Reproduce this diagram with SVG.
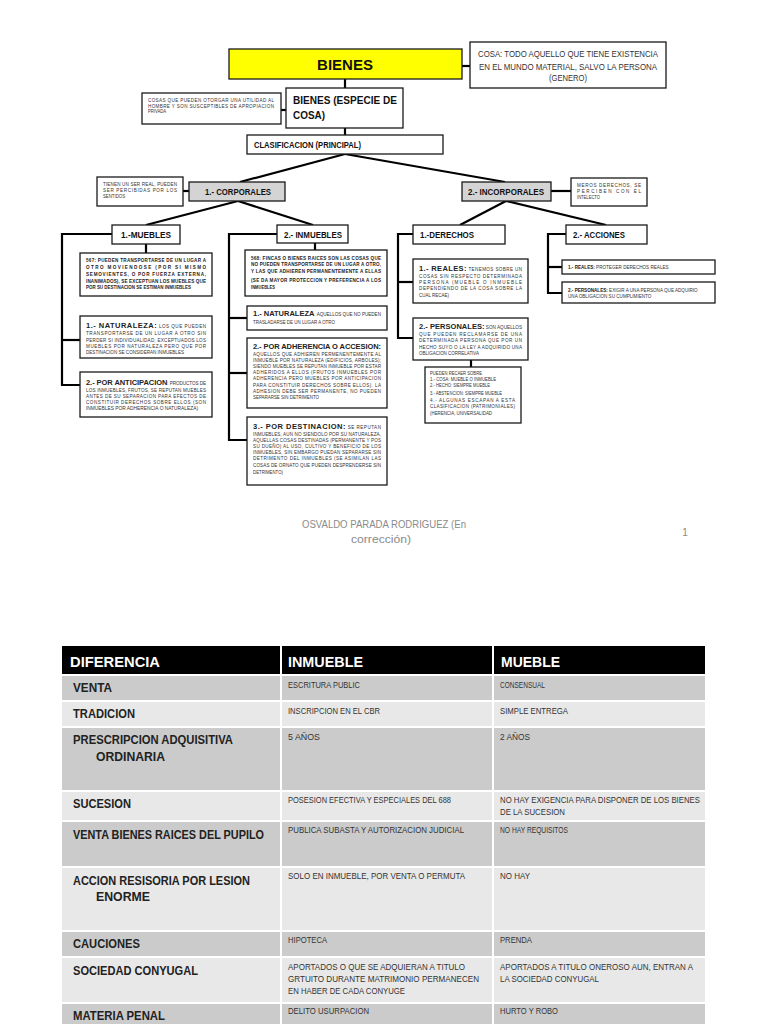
<svg xmlns="http://www.w3.org/2000/svg" width="768" height="1024" viewBox="0 0 768 1024">
<style>
.bx{fill:#fff;stroke:#1a1a1a;stroke-width:1.3}
.gr{fill:#d4d4d4;stroke:#1a1a1a;stroke-width:1.3}
.yl{fill:#ffff00;stroke:#1a1a1a;stroke-width:1.3}
.ln{stroke:#000;stroke-width:2.2;fill:none}
text{font-family:"Liberation Sans",Arial,sans-serif;fill:#333}
.s{font-size:4.6px}
.sb{font-size:4.6px;font-weight:bold;fill:#222}
.lb{font-size:7.5px;font-weight:bold;fill:#222}
.h{font-weight:bold;fill:#111}
.hd{font-size:15.5px;font-weight:bold;fill:#fff}
.c1{font-size:12px;font-weight:bold;fill:#222}
.c2{font-size:8.5px;fill:#333}
.dk{fill:#cbcbcb}
.lt{fill:#e8e8e8}
.ft{font-size:10px;fill:#8a8a8a}
</style>
<defs></defs>
<g id="connectors">
<line class="ln" x1="345" y1="79" x2="345" y2="88"/>
<line class="ln" x1="462" y1="66" x2="470" y2="66"/>
<line class="ln" x1="281" y1="110" x2="286" y2="110"/>
<line class="ln" x1="345" y1="128" x2="345" y2="135"/>
<line class="ln" x1="345" y1="154" x2="240" y2="182"/>
<line class="ln" x1="345" y1="154" x2="505" y2="182"/>
<line class="ln" x1="183" y1="191" x2="189" y2="191"/>
<line class="ln" x1="551" y1="191" x2="571" y2="191"/>
<line class="ln" x1="238" y1="201" x2="146" y2="225"/>
<line class="ln" x1="238" y1="201" x2="313" y2="225"/>
<line class="ln" x1="146" y1="244" x2="146" y2="253"/>
<line class="ln" x1="315" y1="243" x2="315" y2="250"/>
<polyline class="ln" points="112,234 62,234 62,385 80,385"/>
<line class="ln" x1="62" y1="340" x2="80" y2="340"/>
<polyline class="ln" points="277,234 229,234 229,440 247,440"/>
<line class="ln" x1="229" y1="318" x2="247" y2="318"/>
<line class="ln" x1="229" y1="373" x2="247" y2="373"/>
<line class="ln" x1="506" y1="201" x2="460" y2="225"/>
<line class="ln" x1="506" y1="201" x2="606" y2="225"/>
<polyline class="ln" points="413,234 398,234 398,338 413,338"/>
<line class="ln" x1="398" y1="282" x2="413" y2="282"/>
<polyline class="ln" points="566,234 548,234 548,293 562,293"/>
<line class="ln" x1="548" y1="267" x2="562" y2="267"/>
<line class="ln" x1="471" y1="360" x2="471" y2="367"/>
</g>
<g id="bienes">
<rect class="yl" x="229" y="49" width="233" height="30"/>
<text x="345" y="70" text-anchor="middle" class="h" style="font-size:15px">BIENES</text>
</g>
<g id="cosa">
<rect class="bx" x="470" y="42" width="196" height="46"/>
<text x="568" y="57" text-anchor="middle" style="font-size:8.5px" textLength="180" lengthAdjust="spacingAndGlyphs">COSA: TODO AQUELLO QUE TIENE EXISTENCIA</text>
<text x="568" y="70" text-anchor="middle" style="font-size:8.5px" textLength="178" lengthAdjust="spacingAndGlyphs">EN EL MUNDO MATERIAL, SALVO LA PERSONA</text>
<text x="568" y="81" text-anchor="middle" style="font-size:8.5px" textLength="38" lengthAdjust="spacingAndGlyphs">(GENERO)</text>
</g>
<g id="especie">
<rect class="bx" x="286" y="88" width="117" height="40"/>
<text x="293" y="104" class="h" style="font-size:10.5px" textLength="104" lengthAdjust="spacingAndGlyphs">BIENES (ESPECIE DE</text>
<text x="293" y="119" class="h" style="font-size:10.5px" textLength="32" lengthAdjust="spacingAndGlyphs">COSA)</text>
</g>
<g id="cosas-que-pueden">
<rect class="bx" x="142" y="93" width="139" height="31"/>
<text x="148" y="102" class="s" textLength="126" lengthAdjust="spacing">COSAS QUE PUEDEN  OTORGAR UNA UTILIDAD AL</text>
<text x="148" y="107.5" class="s" textLength="126" lengthAdjust="spacing">HOMBRE Y SON SUSCEPTIBLES DE APROPIACION</text>
<text x="148" y="113" class="s" textLength="18" lengthAdjust="spacingAndGlyphs">PRIVADA</text>
</g>
<g id="clasificacion">
<rect class="bx" x="247" y="135" width="196" height="19"/>
<text x="254" y="148" class="h" style="font-size:8.5px" textLength="107" lengthAdjust="spacingAndGlyphs">CLASIFICACION (PRINCIPAL)</text>
</g>
<g id="corporales">
<rect class="gr" x="189" y="182" width="96" height="19"/>
<text x="238" y="195" text-anchor="middle" class="h" style="font-size:9.5px" textLength="66" lengthAdjust="spacingAndGlyphs">1.- CORPORALES</text>
</g>
<g id="tienen">
<rect class="bx" x="97" y="177" width="86" height="29"/>
<text x="103" y="186" class="s" textLength="74" lengthAdjust="spacing">TIENEN UN SER REAL, PUEDEN</text>
<text x="103" y="192" class="s" textLength="74" lengthAdjust="spacing">SER PERCIBIDAS POR LOS</text>
<text x="103" y="198" class="s" textLength="22" lengthAdjust="spacingAndGlyphs">SENTIDOS</text>
</g>
<g id="incorporales">
<rect class="gr" x="462" y="182" width="89" height="19"/>
<text x="506" y="195" text-anchor="middle" class="h" style="font-size:9.5px" textLength="76" lengthAdjust="spacingAndGlyphs">2.- INCORPORALES</text>
</g>
<g id="meros">
<rect class="bx" x="571" y="178" width="76" height="28"/>
<text x="577" y="187" class="s" textLength="64" lengthAdjust="spacing">MEROS DERECHOS, SE</text>
<text x="577" y="193" class="s" textLength="64" lengthAdjust="spacing">PERCIBEN CON EL</text>
<text x="577" y="199" class="s" textLength="23" lengthAdjust="spacingAndGlyphs">INTELECTO</text>
</g>
<g id="muebles">
<rect class="bx" x="112" y="225" width="68" height="19"/>
<text x="146" y="238" text-anchor="middle" class="h" style="font-size:9px" textLength="50" lengthAdjust="spacingAndGlyphs">1.-MUEBLES</text>
</g>
<g id="inmuebles">
<rect class="bx" x="277" y="225" width="71" height="18"/>
<text x="313" y="238" text-anchor="middle" class="h" style="font-size:9px" textLength="58" lengthAdjust="spacingAndGlyphs">2.- INMUEBLES</text>
</g>
<g id="derechos">
<rect class="bx" x="413" y="225" width="92" height="19"/>
<text x="420" y="238" class="h" style="font-size:9px" textLength="54" lengthAdjust="spacingAndGlyphs">1.-DERECHOS</text>
</g>
<g id="acciones">
<rect class="bx" x="566" y="225" width="81" height="19"/>
<text x="573" y="238" class="h" style="font-size:9px" textLength="52" lengthAdjust="spacingAndGlyphs">2.- ACCIONES</text>
</g>
<g id="art567">
<rect class="bx" x="80" y="253" width="132" height="43"/>
<text x="86" y="262" class="sb" textLength="120" lengthAdjust="spacing">567: PUEDEN TRANSPORTARSE DE UN LUGAR A</text>
<text x="86" y="268.5" class="sb" textLength="120" lengthAdjust="spacing">OTRO MOVIENDOSE (POR SI MISMO</text>
<text x="86" y="275.5" class="sb" textLength="120" lengthAdjust="spacing">SEMOVIENTES, O POR FUERZA EXTERNA,</text>
<text x="86" y="283" class="sb" textLength="120" lengthAdjust="spacing">INANIMADOS), SE EXCEPTUAN LOS MUEBLES QUE</text>
<text x="86" y="289" class="sb" textLength="105" lengthAdjust="spacingAndGlyphs">POR SU DESTINACION SE ESTIMAN INMUEBLES</text>
</g>
<g id="m-naturaleza">
<rect class="bx" x="80" y="316" width="132" height="42"/>
<text x="86" y="328" textLength="120" lengthAdjust="spacing"><tspan class="lb">1.- NATURALEZA:</tspan><tspan class="s"> LOS QUE PUEDEN</tspan></text>
<text x="86" y="335" class="s" textLength="120" lengthAdjust="spacing">TRANSPORTARSE DE UN LUGAR A OTRO SIN</text>
<text x="86" y="341.5" class="s" textLength="120" lengthAdjust="spacing">PERDER SI INDIVIDUALIDAD, EXCEPTUADOS LOS</text>
<text x="86" y="348" class="s" textLength="120" lengthAdjust="spacing">MUEBLES POR NATURALEZA PERO QUE POR</text>
<text x="86" y="354" class="s" textLength="98" lengthAdjust="spacingAndGlyphs">DESTINACION SE CONSIDERAN INMUEBLES</text>
</g>
<g id="m-anticipacion">
<rect class="bx" x="80" y="372" width="132" height="45"/>
<text x="86" y="385" textLength="120" lengthAdjust="spacing"><tspan class="lb">2.- POR ANTICIPACION</tspan><tspan class="s">: PRODUCTOS DE</tspan></text>
<text x="86" y="391.5" class="s" textLength="120" lengthAdjust="spacing">LOS INMUEBLES, FRUTOS, SE REPUTAN MUEBLES</text>
<text x="86" y="397.5" class="s" textLength="120" lengthAdjust="spacing">ANTES DE SU SEPARACION PARA EFECTOS DE</text>
<text x="86" y="403.5" class="s" textLength="120" lengthAdjust="spacing">CONSTITUIR DERECHOS SOBRE ELLOS (SON</text>
<text x="86" y="410" class="s" textLength="112" lengthAdjust="spacingAndGlyphs">INMUEBLES POR ADHERENCIA O NATURALEZA)</text>
</g>
<g id="art568">
<rect class="bx" x="245" y="250" width="142" height="46"/>
<text x="251" y="259.5" class="sb" textLength="130" lengthAdjust="spacing">568: FINCAS O BIENES RAICES SON LAS COSAS QUE</text>
<text x="251" y="266" class="sb" textLength="130" lengthAdjust="spacing">NO PUEDEN TRANSPORTARSE DE UN LUGAR A OTRO,</text>
<text x="251" y="273" class="sb" textLength="130" lengthAdjust="spacing">Y LAS QUE ADHIEREN PERMANENTEMENTE A ELLAS</text>
<text x="251" y="282" class="sb" textLength="130" lengthAdjust="spacing">(SE DA MAYOR PROTECCION Y PREFERENCIA A LOS</text>
<text x="251" y="288.5" class="sb" textLength="24" lengthAdjust="spacingAndGlyphs">INMUEBLES</text>
</g>
<g id="i-naturaleza">
<rect class="bx" x="247" y="306" width="140" height="24"/>
<text x="253" y="316" textLength="128" lengthAdjust="spacing"><tspan class="lb">1.- NATURALEZA</tspan><tspan class="s">: AQUELLOS QUE NO PUEDEN</tspan></text>
<text x="253" y="323.5" class="s" textLength="82" lengthAdjust="spacingAndGlyphs">TRASLADARSE DE UN LUGAR A OTRO</text>
</g>
<g id="i-adherencia">
<rect class="bx" x="247" y="338" width="140" height="70"/>
<text x="253" y="349" class="lb" textLength="128" lengthAdjust="spacing">2.- POR ADHERENCIA O ACCESION:</text>
<text x="253" y="356" class="s" textLength="128" lengthAdjust="spacing">AQUELLOS QUE ADHIEREN PERMENENTEMENTE AL</text>
<text x="253" y="362" class="s" textLength="128" lengthAdjust="spacing">INMUEBLE POR NATURALEZA (EDIFICIOS, ARBOLES);</text>
<text x="253" y="368" class="s" textLength="128" lengthAdjust="spacing">SIENDO MUEBLES SE REPUTAN INMUEBLE POR ESTAR</text>
<text x="253" y="374" class="s" textLength="128" lengthAdjust="spacing">ADHERIDOS A ELLOS (FRUTOS INMUEBLES POR</text>
<text x="253" y="380" class="s" textLength="128" lengthAdjust="spacing">ADHERENCIA PERO MUEBLES POR ANTICIPACION</text>
<text x="253" y="387" class="s" textLength="128" lengthAdjust="spacing">PARA CONSTITUIR DERECHOS SOBRE ELLOS). LA</text>
<text x="253" y="393" class="s" textLength="128" lengthAdjust="spacing">ADHESION DEBE SER PERMANENTE, NO PUEDEN</text>
<text x="253" y="399" class="s" textLength="66" lengthAdjust="spacingAndGlyphs">SEPARARSE SIN DETRIMENTO</text>
</g>
<g id="i-destinacion">
<rect class="bx" x="247" y="417" width="140" height="68"/>
<text x="253" y="429" textLength="128" lengthAdjust="spacing"><tspan class="lb">3.- POR DESTINACION:</tspan><tspan class="s"> SE REPUTAN</tspan></text>
<text x="253" y="435.5" class="s" textLength="128" lengthAdjust="spacing">INMUEBLES, AUN NO SIENDOLO POR SU NATURALEZA,</text>
<text x="253" y="441.5" class="s" textLength="128" lengthAdjust="spacing">AQUELLAS COSAS DESTINADAS (PERMANENTE Y POS</text>
<text x="253" y="447.5" class="s" textLength="128" lengthAdjust="spacing">SU DUEÑO) AL USO, CULTIVO Y BENEFICIO DE LOS</text>
<text x="253" y="453.5" class="s" textLength="128" lengthAdjust="spacing">INMUEBLES, SIN EMBARGO PUEDAN SEPARARSE SIN</text>
<text x="253" y="459.5" class="s" textLength="128" lengthAdjust="spacing">DETRIMENTO DEL INMUEBLES (SE ASIMILAN LAS</text>
<text x="253" y="467" class="s" textLength="128" lengthAdjust="spacing">COSAS DE ORNATO QUE PUEDEN DESPRENDERSE SIN</text>
<text x="253" y="474" class="s" textLength="30" lengthAdjust="spacingAndGlyphs">DETRIMENTO)</text>
</g>
<g id="d-reales">
<rect class="bx" x="413" y="259" width="115" height="44"/>
<text x="419" y="271" textLength="103" lengthAdjust="spacing"><tspan class="lb">1.- REALES:</tspan><tspan class="s"> TENEMOS SOBRE UN</tspan></text>
<text x="419" y="277.5" class="s" textLength="103" lengthAdjust="spacing">COSAS SIN RESPECTO DETERMINADA</text>
<text x="419" y="283.5" class="s" textLength="103" lengthAdjust="spacing">PERSONA (MUEBLE O INMUEBLE</text>
<text x="419" y="290" class="s" textLength="103" lengthAdjust="spacing">DEPENDIENDO DE LA COSA SOBRE LA</text>
<text x="419" y="296.5" class="s" textLength="30" lengthAdjust="spacingAndGlyphs">CUAL RECAE)</text>
</g>
<g id="d-personales">
<rect class="bx" x="413" y="318" width="115" height="42"/>
<text x="419" y="329" textLength="103" lengthAdjust="spacing"><tspan class="lb">2.- PERSONALES:</tspan><tspan class="s"> SON AQUELLOS</tspan></text>
<text x="419" y="336" class="s" textLength="103" lengthAdjust="spacing">QUE PUEDEN RECLAMARSE DE UNA</text>
<text x="419" y="342" class="s" textLength="103" lengthAdjust="spacing">DETERMINADA PERSONA QUE POR UN</text>
<text x="419" y="348.5" class="s" textLength="103" lengthAdjust="spacing">HECHO SUYO O LA LEY A ADQUIRIDO UNA</text>
<text x="419" y="355" class="s" textLength="60" lengthAdjust="spacingAndGlyphs">OBLIGACION CORRELATIVA</text>
</g>
<g id="pueden-recaer">
<rect class="bx" x="425" y="367" width="96" height="56"/>
<text x="430" y="375" class="s" textLength="52" lengthAdjust="spacingAndGlyphs">PUEDEN RECAER SOBRE</text>
<text x="430" y="381" class="s" textLength="66" lengthAdjust="spacingAndGlyphs">1.- COSA: MUEBLE O INMUEBLE</text>
<text x="430" y="387" class="s" textLength="60" lengthAdjust="spacingAndGlyphs">2.- HECHO: SIEMPRE MUEBLE</text>
<text x="430" y="395" class="s" textLength="72" lengthAdjust="spacingAndGlyphs">3.- ABSTENCION: SIEMPRE MUEBLE</text>
<text x="430" y="401.5" class="s" textLength="85" lengthAdjust="spacing">4.- ALGUNAS ESCAPAN A ESTA</text>
<text x="430" y="408" class="s" textLength="85" lengthAdjust="spacing">CLASIFICACION (PATRIMONIALES)</text>
<text x="430" y="415" class="s" textLength="62" lengthAdjust="spacingAndGlyphs">(HERENCIA, UNIVERSALIDAD</text>
</g>
<g id="a-reales">
<rect class="bx" x="562" y="260" width="153" height="14"/>
<text x="568" y="269"><tspan class="sb">1.- REALES:</tspan><tspan class="s"> PROTEGER DERECHOS REALES</tspan></text>
</g>
<g id="a-personales">
<rect class="bx" x="562" y="282" width="153" height="21"/>
<text x="568" y="291.5"><tspan class="sb">2.- PERSONALES:</tspan><tspan class="s"> EXIGIR A UNA PERSONA QUE ADQUIRIO</tspan></text>
<text x="568" y="298" class="s">UNA OBLIGACION SU CUMPLIMIENTO</text>
</g>
<g id="footer">
<text x="384" y="528" text-anchor="middle" class="ft" textLength="164" lengthAdjust="spacingAndGlyphs">OSVALDO PARADA RODRIGUEZ (En</text>
<text x="381" y="543" text-anchor="middle" class="ft" textLength="60" lengthAdjust="spacingAndGlyphs">corrección)</text>
<text x="685" y="536" text-anchor="middle" class="ft">1</text>
</g>
<g id="table">
<rect x="62" y="646" width="218" height="28" fill="#000"/>
<rect x="282" y="646" width="210" height="28" fill="#000"/>
<rect x="494" y="646" width="211" height="28" fill="#000"/>
<text x="70" y="667" class="hd" textLength="90" lengthAdjust="spacingAndGlyphs">DIFERENCIA</text>
<text x="288" y="667" class="hd" textLength="75" lengthAdjust="spacingAndGlyphs">INMUEBLE</text>
<text x="501" y="667" class="hd" textLength="59" lengthAdjust="spacingAndGlyphs">MUEBLE</text>

<rect class="dk" x="62" y="676" width="218" height="24"/><rect class="dk" x="282" y="676" width="210" height="24"/><rect class="dk" x="494" y="676" width="211" height="24"/>
<rect class="lt" x="62" y="702" width="218" height="24"/><rect class="lt" x="282" y="702" width="210" height="24"/><rect class="lt" x="494" y="702" width="211" height="24"/>
<rect class="dk" x="62" y="728" width="218" height="62"/><rect class="dk" x="282" y="728" width="210" height="62"/><rect class="dk" x="494" y="728" width="211" height="62"/>
<rect class="lt" x="62" y="792" width="218" height="28"/><rect class="lt" x="282" y="792" width="210" height="28"/><rect class="lt" x="494" y="792" width="211" height="28"/>
<rect class="dk" x="62" y="822" width="218" height="44"/><rect class="dk" x="282" y="822" width="210" height="44"/><rect class="dk" x="494" y="822" width="211" height="44"/>
<rect class="lt" x="62" y="868" width="218" height="62"/><rect class="lt" x="282" y="868" width="210" height="62"/><rect class="lt" x="494" y="868" width="211" height="62"/>
<rect class="dk" x="62" y="932" width="218" height="24"/><rect class="dk" x="282" y="932" width="210" height="24"/><rect class="dk" x="494" y="932" width="211" height="24"/>
<rect class="lt" x="62" y="958" width="218" height="44"/><rect class="lt" x="282" y="958" width="210" height="44"/><rect class="lt" x="494" y="958" width="211" height="44"/>
<rect class="dk" x="62" y="1004" width="218" height="20"/><rect class="dk" x="282" y="1004" width="210" height="20"/><rect class="dk" x="494" y="1004" width="211" height="20"/>

<text x="73" y="692" class="c1" textLength="39" lengthAdjust="spacingAndGlyphs">VENTA</text>
<text x="73" y="718" class="c1" textLength="62" lengthAdjust="spacingAndGlyphs">TRADICION</text>
<text x="73" y="744" class="c1" textLength="160" lengthAdjust="spacingAndGlyphs">PRESCRIPCION ADQUISITIVA</text>
<text x="96" y="761" class="c1" textLength="69" lengthAdjust="spacingAndGlyphs">ORDINARIA</text>
<text x="73" y="808" class="c1" textLength="58" lengthAdjust="spacingAndGlyphs">SUCESION</text>
<text x="73" y="839" class="c1" textLength="191" lengthAdjust="spacingAndGlyphs">VENTA BIENES RAICES DEL PUPILO</text>
<text x="73" y="885" class="c1" textLength="177" lengthAdjust="spacingAndGlyphs">ACCION RESISORIA POR LESION</text>
<text x="96" y="901" class="c1" textLength="54" lengthAdjust="spacingAndGlyphs">ENORME</text>
<text x="73" y="948" class="c1" textLength="67" lengthAdjust="spacingAndGlyphs">CAUCIONES</text>
<text x="73" y="975" class="c1" textLength="125" lengthAdjust="spacingAndGlyphs">SOCIEDAD CONYUGAL</text>
<text x="73" y="1020" class="c1" textLength="92" lengthAdjust="spacingAndGlyphs">MATERIA PENAL</text>

<text x="288" y="688" class="c2" textLength="72" lengthAdjust="spacingAndGlyphs">ESCRITURA PUBLIC</text>
<text x="288" y="714" class="c2" textLength="92" lengthAdjust="spacingAndGlyphs">INSCRIPCION EN EL CBR</text>
<text x="288" y="740" class="c2" textLength="32" lengthAdjust="spacingAndGlyphs">5 AÑOS</text>
<text x="288" y="803" class="c2" textLength="163" lengthAdjust="spacingAndGlyphs">POSESION EFECTIVA Y ESPECIALES DEL 688</text>
<text x="288" y="833" class="c2" textLength="176" lengthAdjust="spacingAndGlyphs">PUBLICA SUBASTA Y AUTORIZACION JUDICIAL</text>
<text x="288" y="879" class="c2" textLength="177" lengthAdjust="spacingAndGlyphs">SOLO EN INMUEBLE, POR VENTA O PERMUTA</text>
<text x="288" y="943" class="c2" textLength="39" lengthAdjust="spacingAndGlyphs">HIPOTECA</text>
<text x="288" y="970" class="c2" textLength="177" lengthAdjust="spacingAndGlyphs">APORTADOS O QUE SE ADQUIERAN A TITULO</text>
<text x="288" y="982" class="c2" textLength="191" lengthAdjust="spacingAndGlyphs">GRTUITO DURANTE MATRIMONIO PERMANECEN</text>
<text x="288" y="994" class="c2" textLength="117" lengthAdjust="spacingAndGlyphs">EN HABER DE CADA CONYUGE</text>
<text x="288" y="1014" class="c2" textLength="81" lengthAdjust="spacingAndGlyphs">DELITO USURPACION</text>

<text x="500" y="688" class="c2" textLength="45" lengthAdjust="spacingAndGlyphs">CONSENSUAL</text>
<text x="500" y="714" class="c2" textLength="68" lengthAdjust="spacingAndGlyphs">SIMPLE ENTREGA</text>
<text x="500" y="740" class="c2" textLength="30" lengthAdjust="spacingAndGlyphs">2 AÑOS</text>
<text x="500" y="803" class="c2" textLength="200" lengthAdjust="spacingAndGlyphs">NO HAY EXIGENCIA PARA DISPONER DE LOS BIENES</text>
<text x="500" y="815" class="c2" textLength="65" lengthAdjust="spacingAndGlyphs">DE LA SUCESION</text>
<text x="500" y="833" class="c2" textLength="68" lengthAdjust="spacingAndGlyphs">NO HAY REQUISITOS</text>
<text x="500" y="879" class="c2" textLength="30" lengthAdjust="spacingAndGlyphs">NO HAY</text>
<text x="500" y="943" class="c2" textLength="32" lengthAdjust="spacingAndGlyphs">PRENDA</text>
<text x="500" y="970" class="c2" textLength="193" lengthAdjust="spacingAndGlyphs">APORTADOS A TITULO ONEROSO AUN, ENTRAN A</text>
<text x="500" y="982" class="c2" textLength="99" lengthAdjust="spacingAndGlyphs">LA SOCIEDAD CONYUGAL</text>
<text x="500" y="1014" class="c2" textLength="58" lengthAdjust="spacingAndGlyphs">HURTO Y ROBO</text>
</g>
</svg>
